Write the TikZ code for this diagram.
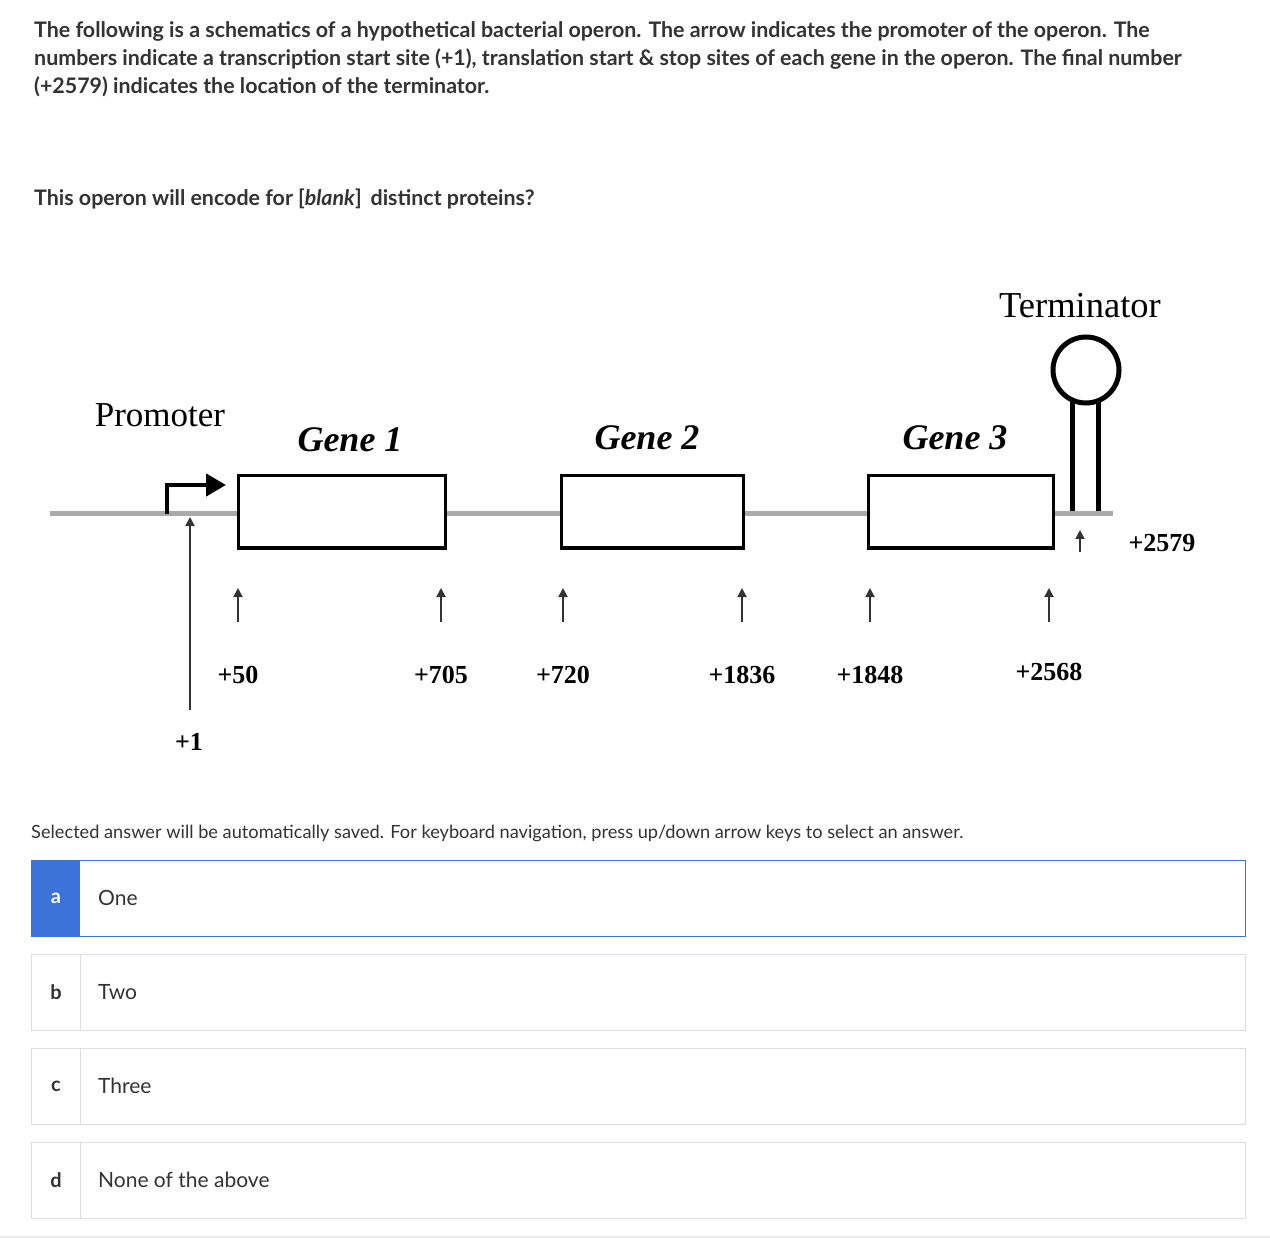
\documentclass[tikz,border=0pt]{standalone}
\usepackage{fontspec}
\setmainfont{Liberation Serif}
\newfontfamily\ui{Lato}
\usetikzlibrary{arrows.meta}
\definecolor{txt}{HTML}{333333}
\definecolor{ln}{HTML}{AAAAAA}
\definecolor{blu}{HTML}{3B73D9}
\definecolor{bd}{HTML}{DDDDDD}
\tikzset{
  hdr/.style={anchor=base west,inner sep=0,text=txt,font=\ui\bfseries\fontsize{21.4}{24}\selectfont},
  num/.style={inner sep=0,font=\bfseries\fontsize{26}{28}\selectfont},
  gene/.style={inner sep=0,font=\bfseries\itshape\fontsize{36}{38}\selectfont},
  dna/.style={ln,line width=5},
  genebox/.style={draw,line width=3},
  tick/.style={-{Triangle[length=9,width=9]},line width=1.8,black!80},
  opt/.style={draw=bd,line width=1},
  opttxt/.style={anchor=west,inner sep=0,text=txt,font=\ui\fontsize{21}{24}\selectfont},
  letter/.style={inner sep=0,text=txt,font=\ui\bfseries\fontsize{20}{24}\selectfont}
}
\begin{document}
\begin{tikzpicture}[x=1pt,y=-1pt]
\useasboundingbox[fill=white] (0,0) rectangle (1270,1238);
\node[hdr] (h1) at (34,38) {The following is a schematics of a hypothetical bacterial operon. The arrow indicates the promoter of the operon. The};
\node[hdr] (h2) at (34,66) {numbers indicate a transcription start site (+1), translation start \& stop sites of each gene in the operon. The final number};
\node[hdr] (h3) at (34,94) {(+2579) indicates the location of the terminator.};
\node[hdr] (q) at (34,206) {This operon will encode for [\textit{blank}]\, distinct proteins?};
% DNA
\draw[dna] (50,514) -- (240,514);
\draw[dna] (445,514) -- (561,514);
\draw[dna] (743,514) -- (868,514);
\draw[dna] (1053,514) -- (1113,514);
\node[genebox,minimum width=207,minimum height=72] (g1) at (341.5,512) {};
\node[genebox,minimum width=182,minimum height=72] (g2) at (652,512) {};
\node[genebox,minimum width=185,minimum height=72] (g3) at (960.5,512) {};
\node[gene] (g1l) at (350,440) {Gene 1};
\node[gene] (g2l) at (647,438) {Gene 2};
\node[gene] (g3l) at (955,438) {Gene 3};
% promoter
\node[inner sep=0,font=\fontsize{35}{38}\selectfont] (prom) at (160,415) {Promoter};
\coordinate (p0) at (167,514);
\coordinate (p1) at (167,485);
\coordinate (p2) at (226,485);
\draw[line width=4.5,-{Triangle[length=20,width=22]}] (p0) -- (p1) -- (p2);
% terminator
\node[inner sep=0,font=\fontsize{36.5}{40}\selectfont] (term) at (1080,306) {Terminator};
\node[draw,circle,line width=5,minimum size=66,inner sep=0] (loop) at (1086,370) {};
\coordinate (s1a) at (1072,400); \coordinate (s1b) at (1072,511);
\coordinate (s2a) at (1098,400); \coordinate (s2b) at (1098,511);
\draw[line width=5] (s1a) -- (s1b);
\draw[line width=5] (s2a) -- (s2b);
% +1
\node[num] (n1) at (189,742) {+1};
\coordinate (t1) at (190,710); \coordinate (h1a) at (190,517);
\draw[tick,line width=2] (t1) -- (h1a);
% ticks
\foreach \x/\lab/\ly/\nm in {238/+50/675/a,441/+705/675/b,563/+720/675/c,742/+1836/675/d,870/+1848/675/e,1049/+2568/672/f}{
  \coordinate (ta\nm) at (\x,622); \coordinate (tb\nm) at (\x,588);
  \draw[tick] (ta\nm) -- (tb\nm);
  \node[num] (l\nm) at (\x,\ly) {\lab};
}
\coordinate (tag) at (1080,552); \coordinate (tbg) at (1080,530);
\draw[tick] (tag) -- (tbg);
\node[num] (lg) at (1162,543) {+2579};
% answers
\node[anchor=base west,inner sep=0,text=txt,font=\ui\fontsize{18.2}{22}\selectfont] (sel) at (31,838) {Selected answer will be automatically saved. For keyboard navigation, press up/down arrow keys to select an answer.};
\foreach \y/\l/\t/\nm in {954/b/Two/b,1048/c/Three/c,1142/d/None of the above/d}{
  \node[opt,minimum width=1214,minimum height=76,inner sep=0,anchor=north west] (o\nm) at (31,\y) {};
  \coordinate (d\nm1) at (80,\y); \coordinate (d\nm2) at (80,\y+76);
  \draw[bd] (d\nm1) -- (d\nm2);
  \node[letter] (k\nm) at (56,\y+38) {\l};
  \node[opttxt] (x\nm) at (98,\y+38) {\t};
}
\node[draw=blu,line width=1,minimum width=1214,minimum height=76,inner sep=0,anchor=north west] (oa) at (31,860) {};
\fill[blu] (31,860) rectangle (80,936);
\node[letter,text=white] (ka) at (56,898) {a};
\node[opttxt] (xa) at (98,898) {One};
\draw[bd!60,line width=3] (0,1237) -- (1270,1237);
\end{tikzpicture}
\end{document}
